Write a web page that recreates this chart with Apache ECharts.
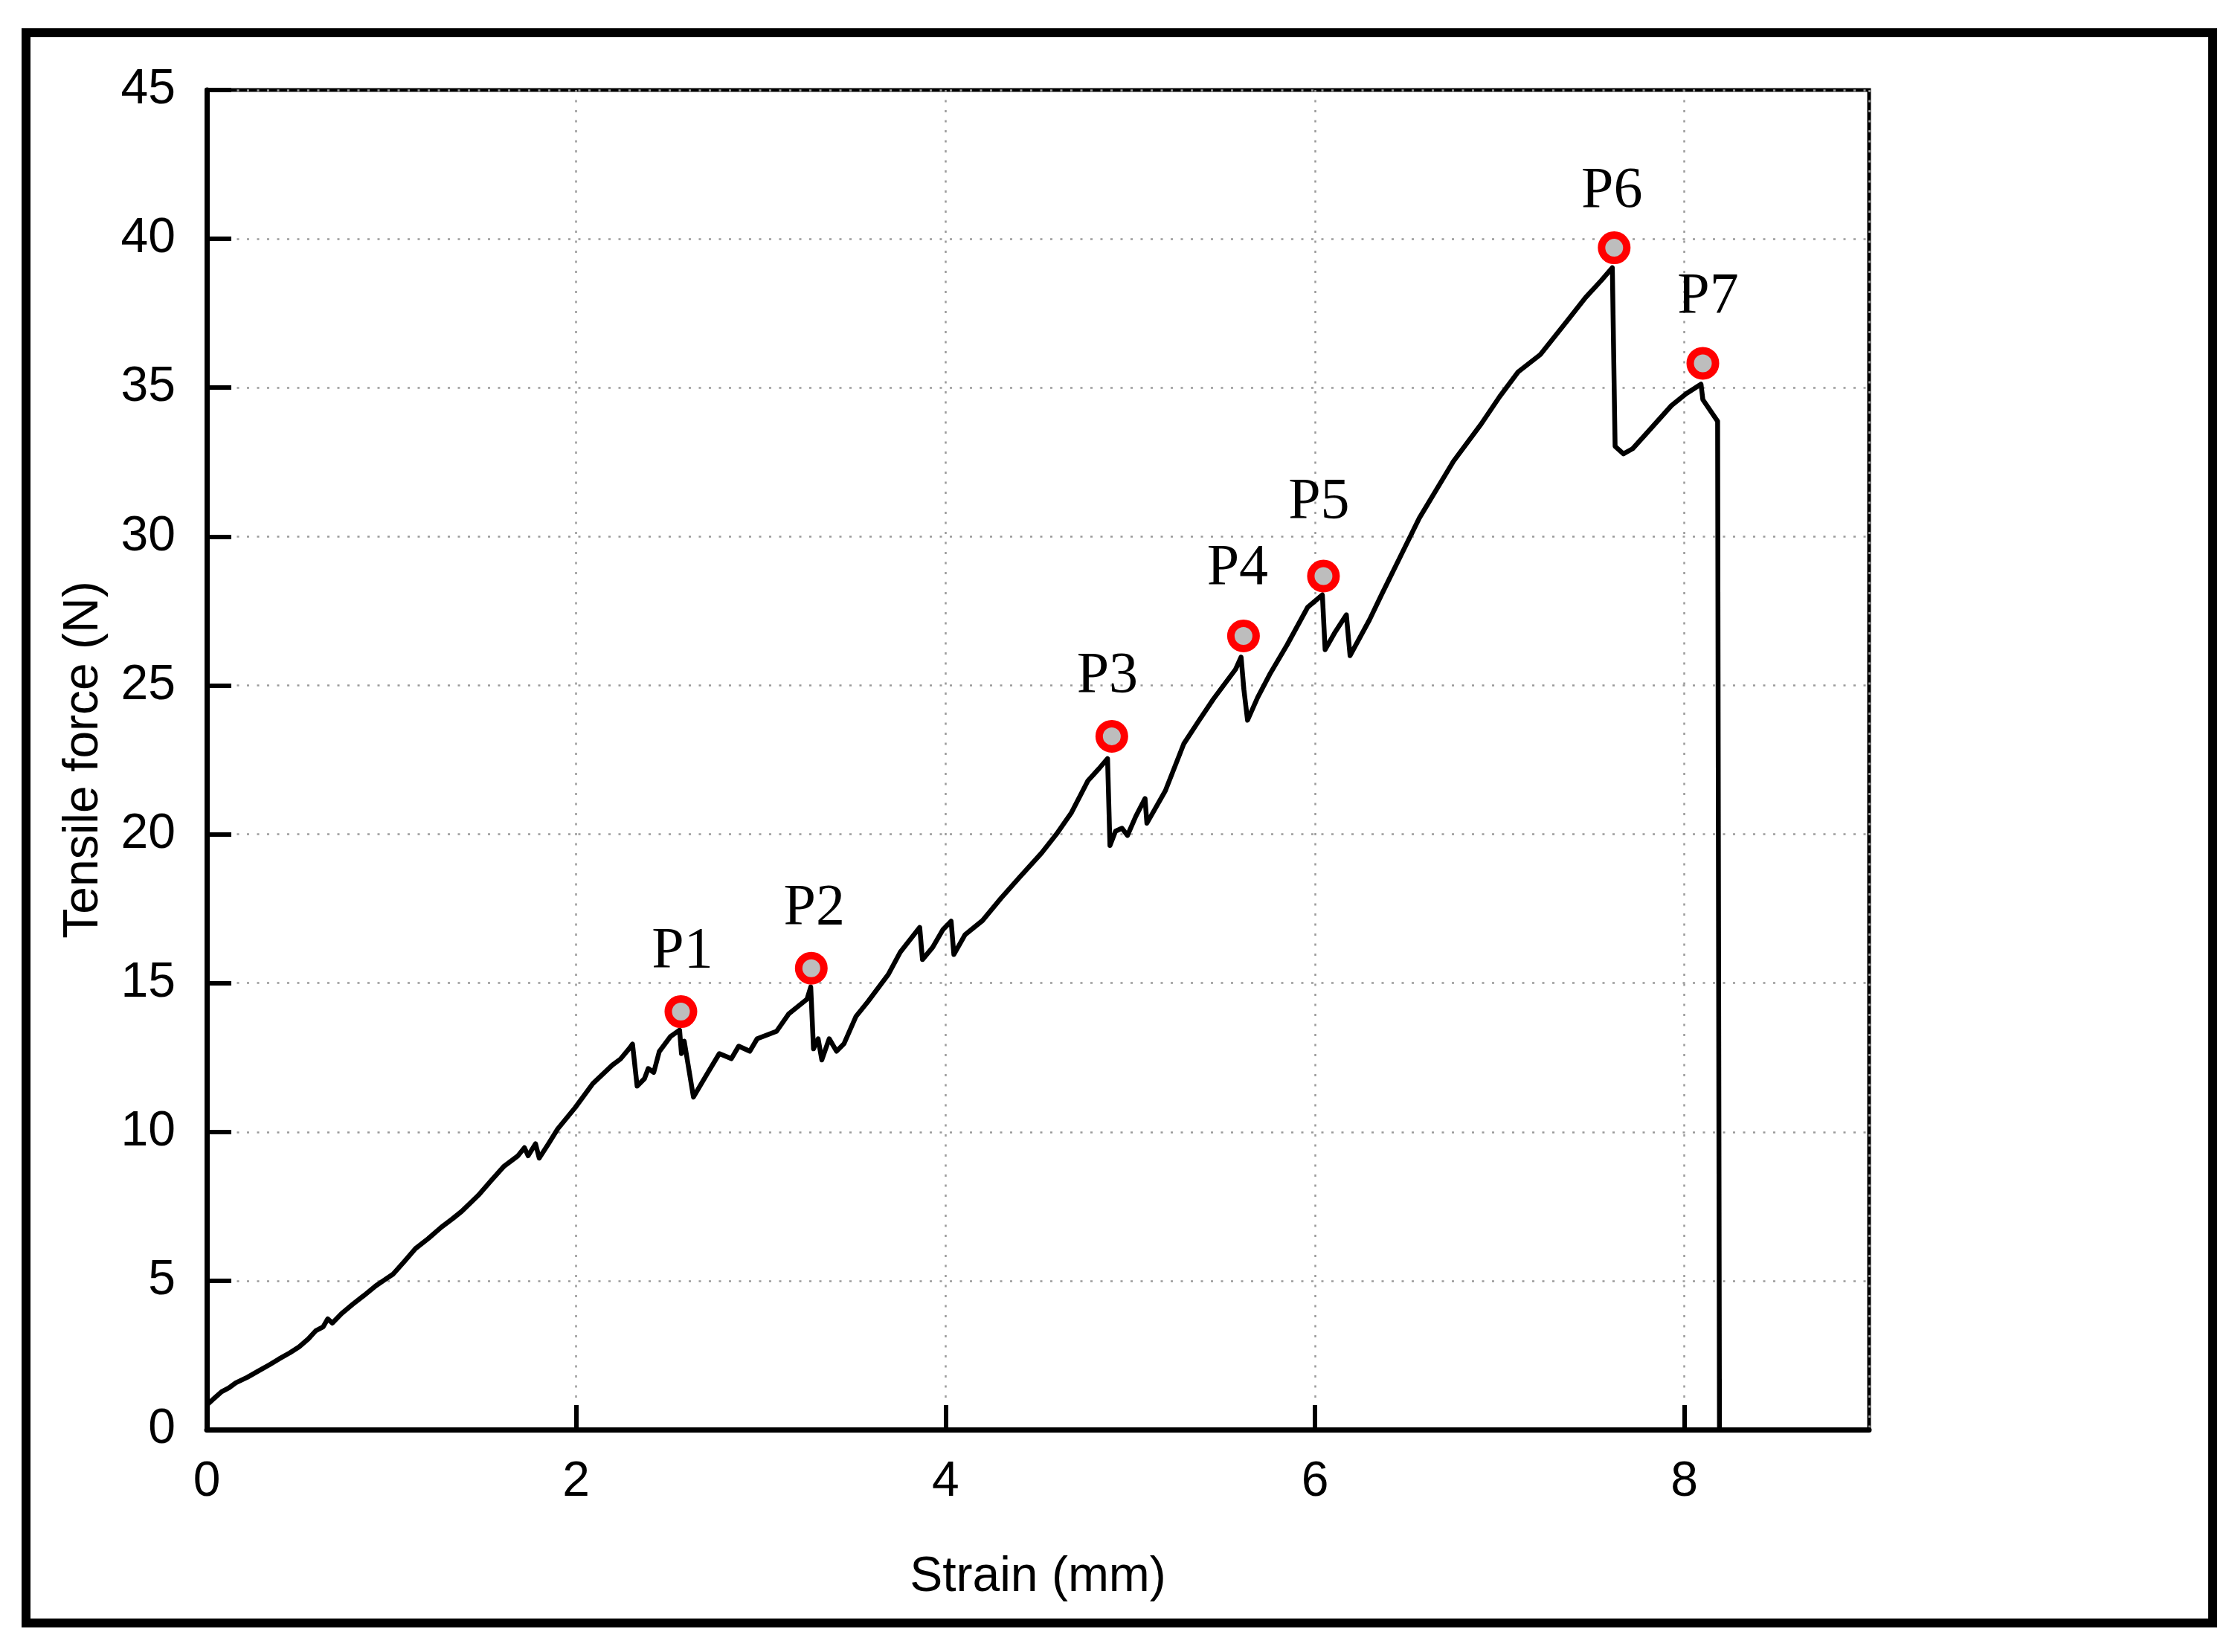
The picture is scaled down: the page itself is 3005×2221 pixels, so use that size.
<!DOCTYPE html>
<html>
<head>
<meta charset="utf-8">
<script src="https://cdn.jsdelivr.net/npm/echarts@6/dist/echarts.min.js"></script>
<style>
html,body{margin:0;padding:0;background:#fff;}
#chart{width:3005px;height:2221px;}
</style>
</head>
<body>
<div id="chart"></div>
<script>
// Strain (mm) of the tensile curve
const strainValues = [
  0, 0.04, 0.08, 0.12, 0.157, 0.22, 0.28, 0.34, 0.39, 0.45, 0.50, 0.55, 0.59, 0.63, 0.655, 0.68, 0.73, 0.79, 0.85, 0.915,
  0.96, 1.01, 1.07, 1.13, 1.20, 1.27, 1.33, 1.38, 1.47, 1.54, 1.61, 1.685, 1.72, 1.74, 1.78, 1.80, 1.85, 1.90, 1.995, 2.09,
  2.195, 2.24, 2.29, 2.305, 2.33, 2.37, 2.39, 2.42, 2.45, 2.51, 2.56, 2.57, 2.585, 2.635, 2.71, 2.775, 2.84, 2.88, 2.94, 2.98,
  3.03, 3.085, 3.15, 3.25, 3.27, 3.285, 3.31, 3.33, 3.37, 3.41, 3.45, 3.515, 3.58, 3.69, 3.755, 3.86, 3.875, 3.93, 3.985, 4.03,
  4.045, 4.105, 4.20, 4.30, 4.40, 4.52, 4.60, 4.68, 4.77, 4.83, 4.877, 4.89, 4.92, 4.955, 4.985, 5.03, 5.08, 5.09, 5.19, 5.29,
  5.37, 5.45, 5.57, 5.60, 5.615, 5.635, 5.69, 5.755, 5.85, 5.96, 6.04, 6.055, 6.11, 6.17, 6.19, 6.295, 6.36, 6.46, 6.565, 6.75,
  6.90, 7.00, 7.10, 7.22, 7.37, 7.465, 7.55, 7.61, 7.625, 7.67, 7.72, 7.80, 7.93, 8.01, 8.09, 8.10, 8.18, 8.19
];
// Tensile force (N) of the tensile curve
const forceValues = [
  0.82, 1.05, 1.27, 1.40, 1.57, 1.76, 1.97, 2.18, 2.37, 2.58, 2.78, 3.05, 3.32, 3.45, 3.72, 3.58, 3.90, 4.21, 4.50, 4.83,
  5.02, 5.23, 5.65, 6.08, 6.42, 6.80, 7.08, 7.33, 7.87, 8.37, 8.85, 9.20, 9.47, 9.20, 9.60, 9.12, 9.60, 10.10, 10.82, 11.62,
  12.24, 12.45, 12.82, 12.95, 11.54, 11.79, 12.13, 12.00, 12.70, 13.20, 13.42, 12.63, 13.05, 11.17, 11.96, 12.63, 12.46, 12.88, 12.71, 13.13,
  13.25, 13.38, 13.96, 14.46, 14.87, 12.79, 13.13, 12.42, 13.13, 12.71, 12.96, 13.88, 14.38, 15.29, 16.04, 16.87, 15.79, 16.20, 16.79, 17.08,
  15.96, 16.62, 17.10, 17.85, 18.55, 19.37, 20.00, 20.71, 21.79, 22.20, 22.54, 19.62, 20.10, 20.20, 19.96, 20.60, 21.20, 20.37, 21.46, 23.04,
  23.80, 24.54, 25.54, 25.95, 24.87, 23.83, 24.60, 25.37, 26.37, 27.62, 28.04, 26.20, 26.80, 27.37, 26.00, 27.20, 28.04, 29.30, 30.62, 32.53,
  33.78, 34.70, 35.53, 36.11, 37.28, 38.03, 38.60, 39.03, 33.03, 32.78, 32.95, 33.50, 34.40, 34.80, 35.12, 34.60, 33.87, 0
];
// Marked points
const markerNames = ['P1', 'P2', 'P3', 'P4', 'P5', 'P6', 'P7'];
const markerStrain = [2.567, 3.273, 4.90, 5.613, 6.046, 7.62, 8.10];
const markerForce = [14.04, 15.50, 23.29, 26.66, 28.67, 39.70, 35.82];
// Tick labels
const xTicks = [0, 2, 4, 6, 8];
const yTicks = [0, 5, 10, 15, 20, 25, 30, 35, 40, 45];

// label nudges (style only)
const labelNudges = [[2, -20], [4, -19], [-6, -19], [-8, -29], [-6, -38], [-3, -15], [7, -28]];

const curve = strainValues.map((x, i) => [x, forceValues[i]]);
const markers = markerNames.map((n, i) => ({
  name: n,
  value: [markerStrain[i], markerForce[i]],
  label: { offset: labelNudges[i] }
}));

const sans = "'Liberation Sans', Arial, sans-serif";
const serif = "'Liberation Serif', 'Times New Roman', serif";

const chart = echarts.init(document.getElementById('chart'), null, { renderer: 'canvas' });
chart.setOption({
  animation: false,
  backgroundColor: '#ffffff',
  grid: {
    left: 278, right: 492, top: 121, bottom: 299,
    containLabel: false,
    outerBoundsMode: 'none',
    show: true,
    borderColor: '#000',
    borderWidth: 5,
    backgroundColor: 'transparent'
  },
  graphic: [{
    type: 'rect',
    shape: { x: 35, y: 44, width: 2940, height: 2138 },
    style: { fill: 'none', stroke: '#000', lineWidth: 12 },
    silent: true,
    z: 100
  }],
  xAxis: {
    type: 'value',
    min: xTicks[0], max: 9, interval: 2,
    name: 'Strain (mm)',
    nameLocation: 'middle',
    nameGap: 166,
    nameTextStyle: { fontFamily: sans, fontSize: 66, color: '#000' },
    axisLine: { show: true, onZero: false, lineStyle: { color: '#000', width: 7 } },
    axisTick: { show: true, inside: true, length: 33, lineStyle: { color: '#000', width: 6 } },
    axisLabel: {
      show: true, margin: 38, fontFamily: sans, fontSize: 66, color: '#000',
      showMaxLabel: false,
      formatter: v => (xTicks.indexOf(v) >= 0 ? String(v) : '')
    },
    splitLine: { show: true, lineStyle: { color: '#9a9a9a', width: 2.5, type: [3, 10.5] } }
  },
  yAxis: {
    type: 'value',
    min: yTicks[0], max: yTicks[yTicks.length - 1], interval: 5,
    name: 'Tensile force (N)',
    nameLocation: 'middle',
    nameGap: 132,
    nameTextStyle: { fontFamily: sans, fontSize: 66, color: '#000' },
    axisLine: { show: true, onZero: false, lineStyle: { color: '#000', width: 7 } },
    axisTick: { show: true, inside: true, length: 33, lineStyle: { color: '#000', width: 6 } },
    axisLabel: {
      show: true, margin: 42, fontFamily: sans, fontSize: 66, color: '#000',
      formatter: v => (yTicks.indexOf(v) >= 0 ? String(v) : '')
    },
    splitLine: { show: true, lineStyle: { color: '#9a9a9a', width: 2.5, type: [3, 10.5] } }
  },
  series: [
    {
      type: 'line',
      data: curve,
      showSymbol: false,
      symbol: 'none',
      lineStyle: { color: '#000', width: 6.5, join: 'round' },
      z: 3
    },
    {
      type: 'scatter',
      data: markers,
      symbol: 'circle',
      symbolSize: 34,
      itemStyle: { color: '#bdbdbd', borderColor: '#ff0000', borderWidth: 10, opacity: 1 },
      label: {
        show: true,
        position: 'top',
        distance: 0,
        formatter: p => p.name,
        fontFamily: serif,
        fontSize: 78,
        lineHeight: 78,
        color: '#000'
      },
      z: 5
    }
  ]
});
</script>
</body>
</html>
